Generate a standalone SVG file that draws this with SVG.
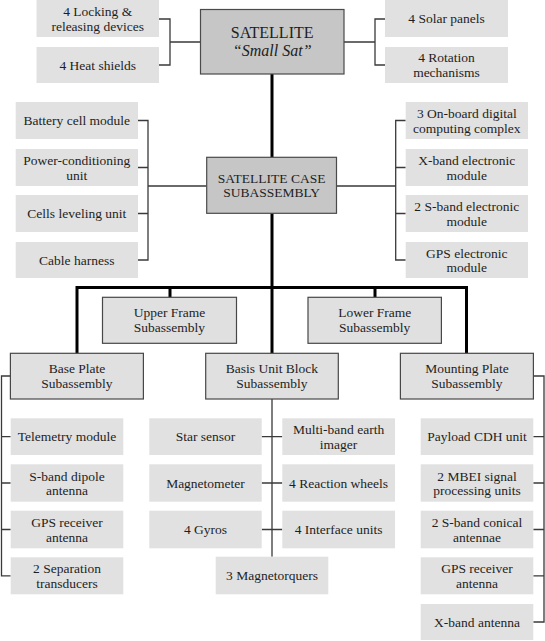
<svg xmlns="http://www.w3.org/2000/svg" width="545" height="641" viewBox="0 0 545 641">
<style>
.leaf{fill:#e1e1e1;stroke:none}
.mid{fill:#e0e0e0;stroke:#474747;stroke-width:1.2}
.dark{fill:#c6c6c6;stroke:#4a4a4a;stroke-width:1.2}
text{font-family:"Liberation Serif","Times New Roman",serif;font-size:13.5px;fill:#1e1e1e;text-anchor:middle}
.big{font-size:16px}
.it{font-style:italic}
.thick{fill:none;stroke:#000;stroke-width:3}
.thin{fill:none;stroke:#3a3a3a;stroke-width:1.3}
</style>
<rect width="545" height="641" fill="#fff"/>
<g id="connectors">
<path class="thin" d="M159,19 H170 V65 H159 M170,42 H200.5"/>
<path class="thin" d="M344,42 H375 M385,19 H375 V65 H385"/>
<path class="thin" d="M138,120.5 H148 V260 H138 M138,167.5 H148 M138,213.5 H148 M148,186 H206.7"/>
<path class="thin" d="M405.7,120.5 H395.7 V260 H405.7 M405.7,167.5 H395.7 M405.7,213.5 H395.7 M336.5,186 H395.7"/>
<path class="thick" d="M272,74 V157.3 M272,213.3 V353.3 M77,287.5 H466.5 M77,286 V353.3 M170,287.5 V297.3 M375,287.5 V297.3 M466.5,286 V353.3"/>
<path class="thin" d="M10.4,376 H1.5 V575.8 H10.7 M1.5,436.7 H10.7 M1.5,483 H10.7 M1.5,529.5 H10.7"/>
<path class="thin" d="M533.5,376 H544 V622 H533.3 M544,436.7 H533.3 M544,483 H533.3 M544,529.5 H533.3 M544,575.8 H533.3"/>
<path class="thin" d="M272,399 V556.7 M261.7,436.7 H282.3 M261.7,483 H282.3 M261.7,529.5 H282.3"/>
</g>
<g id="satellite"><rect class="dark" x="200.5" y="9.5" width="143.5" height="64.5"/><text class="big" x="272.2" y="38">SATELLITE</text><text class="big it" x="272.2" y="55.5">“Small Sat”</text></g>
<g id="locking"><rect class="leaf" x="36.5" y="0" width="122.5" height="37"/><text x="97.7" y="16">4 Locking &amp;</text><text x="97.7" y="30.5">releasing devices</text></g>
<g id="heat"><rect class="leaf" x="36.5" y="47" width="122.5" height="36"/><text x="97.7" y="69.5">4 Heat shields</text></g>
<g id="solar"><rect class="leaf" x="385" y="0" width="123" height="37"/><text x="446.5" y="23">4 Solar panels</text></g>
<g id="rotation"><rect class="leaf" x="385" y="47" width="123" height="36"/><text x="446.5" y="62">4 Rotation</text><text x="446.5" y="76.5">mechanisms</text></g>
<g id="case"><rect class="dark" x="206.7" y="157.3" width="129.8" height="56"/><text x="271.6" y="182.5">SATELLITE CASE</text><text x="271.6" y="197">SUBASSEMBLY</text></g>
<g id="battery"><rect class="leaf" x="15.7" y="102" width="122.3" height="37"/><text x="76.8" y="125">Battery cell module</text></g>
<g id="power"><rect class="leaf" x="15.7" y="149" width="122.3" height="37"/><text x="76.8" y="165">Power-conditioning</text><text x="76.8" y="179.5">unit</text></g>
<g id="cells"><rect class="leaf" x="15.7" y="195" width="122.3" height="37"/><text x="76.8" y="218">Cells leveling unit</text></g>
<g id="cable"><rect class="leaf" x="15.7" y="242" width="122.3" height="36"/><text x="76.8" y="264.5">Cable harness</text></g>
<g id="onboard"><rect class="leaf" x="405.7" y="102" width="122.3" height="37"/><text x="466.8" y="118">3 On-board digital</text><text x="466.8" y="132.5">computing complex</text></g>
<g id="xbandmod"><rect class="leaf" x="405.7" y="149" width="122.3" height="37"/><text x="466.8" y="165">X-band electronic</text><text x="466.8" y="179.5">module</text></g>
<g id="sbandmod"><rect class="leaf" x="405.7" y="195" width="122.3" height="37"/><text x="466.8" y="211">2 S-band electronic</text><text x="466.8" y="225.5">module</text></g>
<g id="gpsmod"><rect class="leaf" x="405.7" y="242" width="122.3" height="36"/><text x="466.8" y="257.5">GPS electronic</text><text x="466.8" y="272">module</text></g>
<g id="upper"><rect class="mid" x="102.5" y="297.3" width="134" height="46"/><text x="169.5" y="317">Upper Frame</text><text x="169.5" y="332">Subassembly</text></g>
<g id="lower"><rect class="mid" x="308" y="297.3" width="133.4" height="46"/><text x="374.7" y="317">Lower Frame</text><text x="374.7" y="332">Subassembly</text></g>
<g id="base"><rect class="mid" x="10.4" y="353.3" width="133" height="45.7"/><text x="77" y="372.5">Base Plate</text><text x="77" y="388">Subassembly</text></g>
<g id="basis"><rect class="mid" x="205.7" y="353.3" width="132.6" height="45.7"/><text x="272" y="372.5">Basis Unit Block</text><text x="272" y="388">Subassembly</text></g>
<g id="mounting"><rect class="mid" x="400.4" y="353.3" width="133" height="45.7"/><text x="467" y="372.5">Mounting Plate</text><text x="467" y="388">Subassembly</text></g>
<g id="telemetry"><rect class="leaf" x="10.7" y="418.3" width="112.6" height="36.7"/><text x="67" y="441.2">Telemetry module</text></g>
<g id="dipole"><rect class="leaf" x="10.7" y="464.3" width="112.6" height="37.4"/><text x="67" y="480.5">S-band dipole</text><text x="67" y="495">antenna</text></g>
<g id="gpsant1"><rect class="leaf" x="10.7" y="510.7" width="112.6" height="37.6"/><text x="67" y="527">GPS receiver</text><text x="67" y="541.5">antenna</text></g>
<g id="separation"><rect class="leaf" x="10.7" y="557.3" width="112.6" height="37"/><text x="67" y="573.3">2 Separation</text><text x="67" y="587.8">transducers</text></g>
<g id="star"><rect class="leaf" x="149.3" y="418.3" width="112.4" height="36.7"/><text x="205.5" y="441.2">Star sensor</text></g>
<g id="magnetometer"><rect class="leaf" x="149.3" y="464.3" width="112.4" height="37.4"/><text x="205.5" y="487.5">Magnetometer</text></g>
<g id="gyros"><rect class="leaf" x="149.3" y="510.7" width="112.4" height="37.6"/><text x="205.5" y="534">4 Gyros</text></g>
<g id="imager"><rect class="leaf" x="282.3" y="418.3" width="112.7" height="36.7"/><text x="338.6" y="434.2">Multi-band earth</text><text x="338.6" y="448.7">imager</text></g>
<g id="wheels"><rect class="leaf" x="282.3" y="464.3" width="112.7" height="37.4"/><text x="338.6" y="487.5">4 Reaction wheels</text></g>
<g id="interface"><rect class="leaf" x="282.3" y="510.7" width="112.7" height="37.6"/><text x="338.6" y="534">4 Interface units</text></g>
<g id="magnetorquers"><rect class="leaf" x="215.7" y="556.7" width="112.6" height="37.6"/><text x="272" y="580">3 Magnetorquers</text></g>
<g id="payload"><rect class="leaf" x="420.7" y="418.3" width="112.6" height="36.7"/><text x="477" y="441.2">Payload CDH unit</text></g>
<g id="mbei"><rect class="leaf" x="420.7" y="464.3" width="112.6" height="37.4"/><text x="477" y="480.5">2 MBEI signal</text><text x="477" y="495">processing units</text></g>
<g id="conical"><rect class="leaf" x="420.7" y="510.7" width="112.6" height="37.6"/><text x="477" y="527">2 S-band conical</text><text x="477" y="541.5">antennae</text></g>
<g id="gpsant2"><rect class="leaf" x="420.7" y="557.3" width="112.6" height="37"/><text x="477" y="573.3">GPS receiver</text><text x="477" y="587.8">antenna</text></g>
<g id="xbandant"><rect class="leaf" x="420.7" y="604" width="112.6" height="36"/><text x="477" y="626.5">X-band antenna</text></g>
</svg>
